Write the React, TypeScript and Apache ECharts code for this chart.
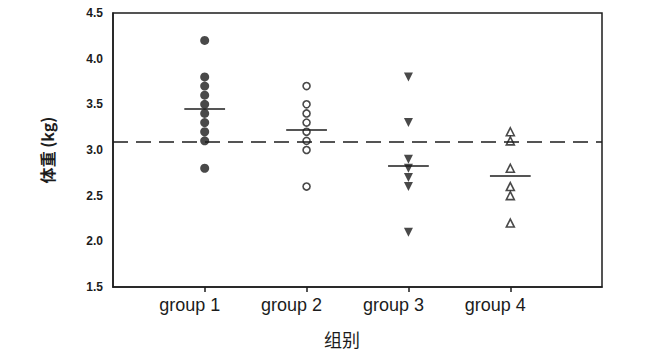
import React, { useEffect, useRef } from "react";
import * as echarts from "echarts";

const groupLabels = ["group 1", "group 2", "group 3", "group 4"];
const group1 = [4.2, 3.8, 3.7, 3.6, 3.5, 3.4, 3.3, 3.2, 3.1, 2.8];
const group2 = [3.7, 3.5, 3.4, 3.3, 3.2, 3.1, 3.0, 2.6];
const group3 = [3.8, 3.3, 2.9, 2.8, 2.7, 2.6, 2.1];
const group4 = [3.2, 3.1, 2.8, 2.6, 2.5, 2.2];
const groupMeans = [3.45, 3.22, 2.83, 2.72];
const referenceValue = 3.09;
const yTicks = [1.5, 2.0, 2.5, 3.0, 3.5, 4.0, 4.5];

const INK = "#1c1c1c";
const FONT = "'Liberation Sans', Arial, sans-serif";

export default function App() {
  const ref = useRef<HTMLDivElement>(null);
  useEffect(() => {
    if (!ref.current) return;
    const chart = echarts.init(ref.current, null, { renderer: "svg" });
    const toPts = (vals: number[], g: number) => vals.map((v) => [g, v]);
    const meanLines = groupMeans.map((m, i) => [
      { coord: [i + 1 - 0.2, m] },
      { coord: [i + 1 + 0.2, m] },
    ]);
    chart.setOption({
      animation: false,
      backgroundColor: "#ffffff",
      grid: {
        left: 113,
        top: 13,
        width: 489,
        height: 274,
        show: true,
        borderColor: INK,
        borderWidth: 1.5,
        backgroundColor: "transparent",
      },
      xAxis: {
        type: "value",
        min: 0.1,
        max: 4.9,
        name: "组别",
        nameLocation: "middle",
        nameGap: 43,
        nameTextStyle: {
          fontSize: 18,
          color: INK,
          fontFamily: "'Noto Sans CJK SC', sans-serif",
          padding: [0, 31, 0, 0],
        },
        axisLine: { show: true, lineStyle: { color: INK, width: 1.5 } },
        axisTick: {
          show: true,
          inside: false,
          length: 5,
          customValues: [1, 2, 3, 4],
          lineStyle: { color: INK, width: 1.5 },
        },
        axisLabel: {
          customValues: [1, 2, 3, 4],
          formatter: (v: number) => groupLabels[Math.round(v) - 1] ?? "",
          fontSize: 18,
          color: INK,
          fontFamily: FONT,
          margin: 9,
          padding: [0, 30, 0, 0],
        },
        splitLine: { show: false },
      },
      yAxis: {
        type: "value",
        min: 1.5,
        max: 4.5,
        interval: 0.5,
        name: "体重 (kg)",
        nameLocation: "middle",
        nameGap: 58,
        nameTextStyle: {
          fontSize: 16,
          fontWeight: "bold",
          color: INK,
          fontFamily: "'Noto Sans CJK SC', sans-serif",
        },
        axisLine: { show: true, lineStyle: { color: INK, width: 1.5 } },
        axisTick: { show: false },
        axisLabel: {
          customValues: yTicks,
          formatter: (v: number) => v.toFixed(1),
          fontSize: 12,
          fontWeight: "bold",
          color: INK,
          fontFamily: FONT,
          margin: 10,
        },
        splitLine: { show: false },
      },
      series: [
        {
          type: "scatter",
          data: toPts(group1, 1),
          symbol: "circle",
          symbolSize: 9,
          itemStyle: { color: INK },
          markLine: {
            silent: true,
            symbol: "none",
            label: { show: false },
            lineStyle: { color: INK, width: 1.5, type: [15, 8] },
            data: [{ yAxis: referenceValue }],
          },
        },
        {
          type: "scatter",
          data: toPts(group2, 2),
          symbol: "circle",
          symbolSize: 7,
          itemStyle: { color: "#ffffff", borderColor: INK, borderWidth: 1.6 },
        },
        {
          type: "scatter",
          data: toPts(group3, 3),
          symbol: "triangle",
          symbolRotate: 180,
          symbolSize: 9,
          itemStyle: { color: INK },
        },
        {
          type: "scatter",
          data: toPts(group4, 4),
          symbol: "triangle",
          symbolSize: 8,
          itemStyle: { color: "#ffffff", borderColor: INK, borderWidth: 1.6 },
          markLine: {
            silent: true,
            symbol: "none",
            label: { show: false },
            lineStyle: { color: INK, width: 1.5, type: "solid" },
            data: meanLines,
          },
        },
      ],
    });
    return () => chart.dispose();
  }, []);
  return (
    <div
      ref={ref}
      style={{ position: "absolute", left: 0, top: 0, width: 659, height: 363 }}
    />
  );
}
